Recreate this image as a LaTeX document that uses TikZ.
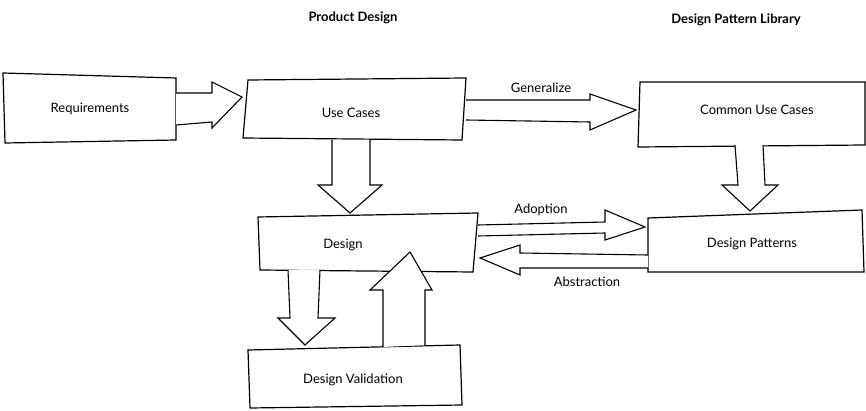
\documentclass[tikz,border=0pt]{standalone}
\usepackage{fontspec}
\setmainfont{Lato}
\begin{document}
\begin{tikzpicture}[x=1pt,y=-1pt,
  box/.style={draw=black,line width=1.2pt,fill=white},
  blk/.style={draw=black,line width=1.1pt,fill=white,line join=miter},
  lbl/.style={font=\fontsize{13}{15}\selectfont},
  ttl/.style={font=\bfseries\fontsize{13}{15}\selectfont}]
\useasboundingbox (0,0) rectangle (866,411);
% titles
\node[ttl] (t1) at (353,18) {Product Design};
\node[ttl] (t2) at (736,20) {Design Pattern Library};
% boxes
\draw[box] (3,73) -- (176,78) -- (176,140) -- (5,143) -- cycle;
\node[lbl] (req) at (90,109) {Requirements};
\draw[box] (248,80) -- (466,78) -- (462,140) -- (243,138) -- cycle;
\node[lbl] (uc) at (351,113) {Use Cases};
\draw[box] (640,82) -- (865,82) -- (865,145) -- (638,147) -- cycle;
\node[lbl] (cuc) at (757,110) {Common Use Cases};
\draw[box] (258,217) -- (478,213) -- (473,272) -- (260,270) -- cycle;
\node[lbl] (des) at (343,245) {Design};
\draw[box] (648,218) -- (862,210) -- (864,272) -- (648,272) -- cycle;
\node[lbl] (dp) at (752,244) {Design Patterns};
\draw[box] (248,350) -- (460,345) -- (462,405) -- (250,408) -- cycle;
\node[lbl] (dv) at (353,380) {Design Validation};
% block arrows
\draw[blk] (176,93) -- (212,93) -- (212,82) -- (242,97) -- (212,128) -- (212,122) -- (176,125);
\draw[blk] (466,100) -- (590,100) -- (590,94) -- (636,110) -- (590,130) -- (590,122) -- (466,120);
\draw[blk] (332,140) -- (332,185) -- (318,185) -- (350,213) -- (382,185) -- (370,185) -- (370,140);
\draw[blk] (735,145) -- (738,185) -- (722,185) -- (750,211) -- (778,185) -- (765,185) -- (763,145);
\draw[blk] (478,225) -- (605,222) -- (605,210) -- (645,227) -- (605,240) -- (605,233) -- (478,236);
\draw[blk] (648,255) -- (520,253) -- (520,245) -- (480,258) -- (520,275) -- (520,268) -- (648,268);
\draw[blk] (288,270) -- (290,318) -- (278,318) -- (305,345) -- (335,318) -- (318,318) -- (320,270);
\draw[blk] (383,347) -- (383,290) -- (370,290) -- (410,252) -- (432,290) -- (425,290) -- (425,345);
% labels
\node[lbl] (g) at (541,88) {Generalize};
\node[lbl] (a) at (541,210) {Adoption};
\node[lbl] (b) at (587,282) {Abstraction};
\end{tikzpicture}
\end{document}
